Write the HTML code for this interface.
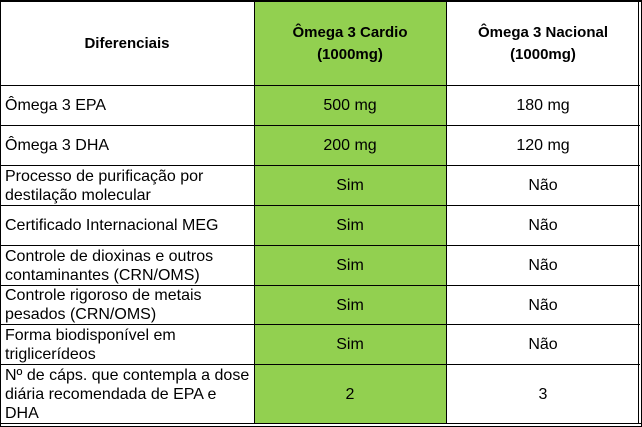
<!DOCTYPE html>
<html><head><meta charset="utf-8"><style>
body{margin:0;width:642px;height:427px;background:#fff;position:relative;overflow:hidden;font-family:"Liberation Sans",Arial,sans-serif;font-size:16px;color:#000}
.g{position:absolute;left:254px;width:192px;top:0;height:424px;background:#92D050}
.h{position:absolute;height:1px;left:0;width:640px;background:#000}
.v{position:absolute;width:1px;top:0;height:424px;background:#000}
.c{position:absolute;display:flex;align-items:center;line-height:19px;white-space:nowrap}
.l{left:5px;width:248px}
.m{left:254px;width:192px;justify-content:center;text-align:center}
.r{left:446px;width:194px;justify-content:center;text-align:center}
b{font-weight:bold;font-size:15px;line-height:22px}
</style></head><body>
<div class="g"></div>
<div class="h" style="top:0;height:2px;width:642px"></div>
<div class="h" style="top:85px"></div><div class="h" style="top:125px"></div><div class="h" style="top:165px"></div><div class="h" style="top:205px"></div><div class="h" style="top:245px"></div><div class="h" style="top:285px"></div><div class="h" style="top:324px"></div><div class="h" style="top:364px"></div>
<div class="h" style="top:423px;width:642px"></div><div class="h" style="top:426px;width:642px"></div>
<div class="v" style="left:0;height:427px"></div><div class="v" style="left:254px"></div><div class="v" style="left:446px"></div>
<div class="v" style="left:638px;height:424px"></div><div class="v" style="left:641px;height:427px"></div>
<div class="c" style="left:0;width:254px;justify-content:center;top:2px;height:83px"><b>Diferenciais</b></div>
<div class="c m" style="top:2px;height:83px"><b>Ômega 3 Cardio<br>(1000mg)</b></div>
<div class="c r" style="top:2px;height:83px"><b>Ômega 3 Nacional<br>(1000mg)</b></div>
<div class="c l" style="top:86px;height:39px">Ômega 3 EPA</div><div class="c m" style="top:86px;height:39px">500 mg</div><div class="c r" style="top:86px;height:39px">180 mg</div>
<div class="c l" style="top:126px;height:39px">Ômega 3 DHA</div><div class="c m" style="top:126px;height:39px">200 mg</div><div class="c r" style="top:126px;height:39px">120 mg</div>
<div class="c l" style="top:166px;height:39px">Processo de purificação por<br>destilação molecular</div><div class="c m" style="top:166px;height:39px">Sim</div><div class="c r" style="top:166px;height:39px">Não</div>
<div class="c l" style="top:206px;height:39px">Certificado Internacional MEG</div><div class="c m" style="top:206px;height:39px">Sim</div><div class="c r" style="top:206px;height:39px">Não</div>
<div class="c l" style="top:246px;height:39px">Controle de dioxinas e outros<br>contaminantes (CRN/OMS)</div><div class="c m" style="top:246px;height:39px">Sim</div><div class="c r" style="top:246px;height:39px">Não</div>
<div class="c l" style="top:286px;height:38px">Controle rigoroso de metais<br>pesados (CRN/OMS)</div><div class="c m" style="top:286px;height:38px">Sim</div><div class="c r" style="top:286px;height:38px">Não</div>
<div class="c l" style="top:325px;height:39px">Forma biodisponível em<br>triglicerídeos</div><div class="c m" style="top:325px;height:39px">Sim</div><div class="c r" style="top:325px;height:39px">Não</div>
<div class="c l" style="top:365px;height:58px">Nº de cáps. que contempla a dose<br>diária recomendada de EPA e<br>DHA</div><div class="c m" style="top:365px;height:58px">2</div><div class="c r" style="top:365px;height:58px">3</div>
</body></html>
